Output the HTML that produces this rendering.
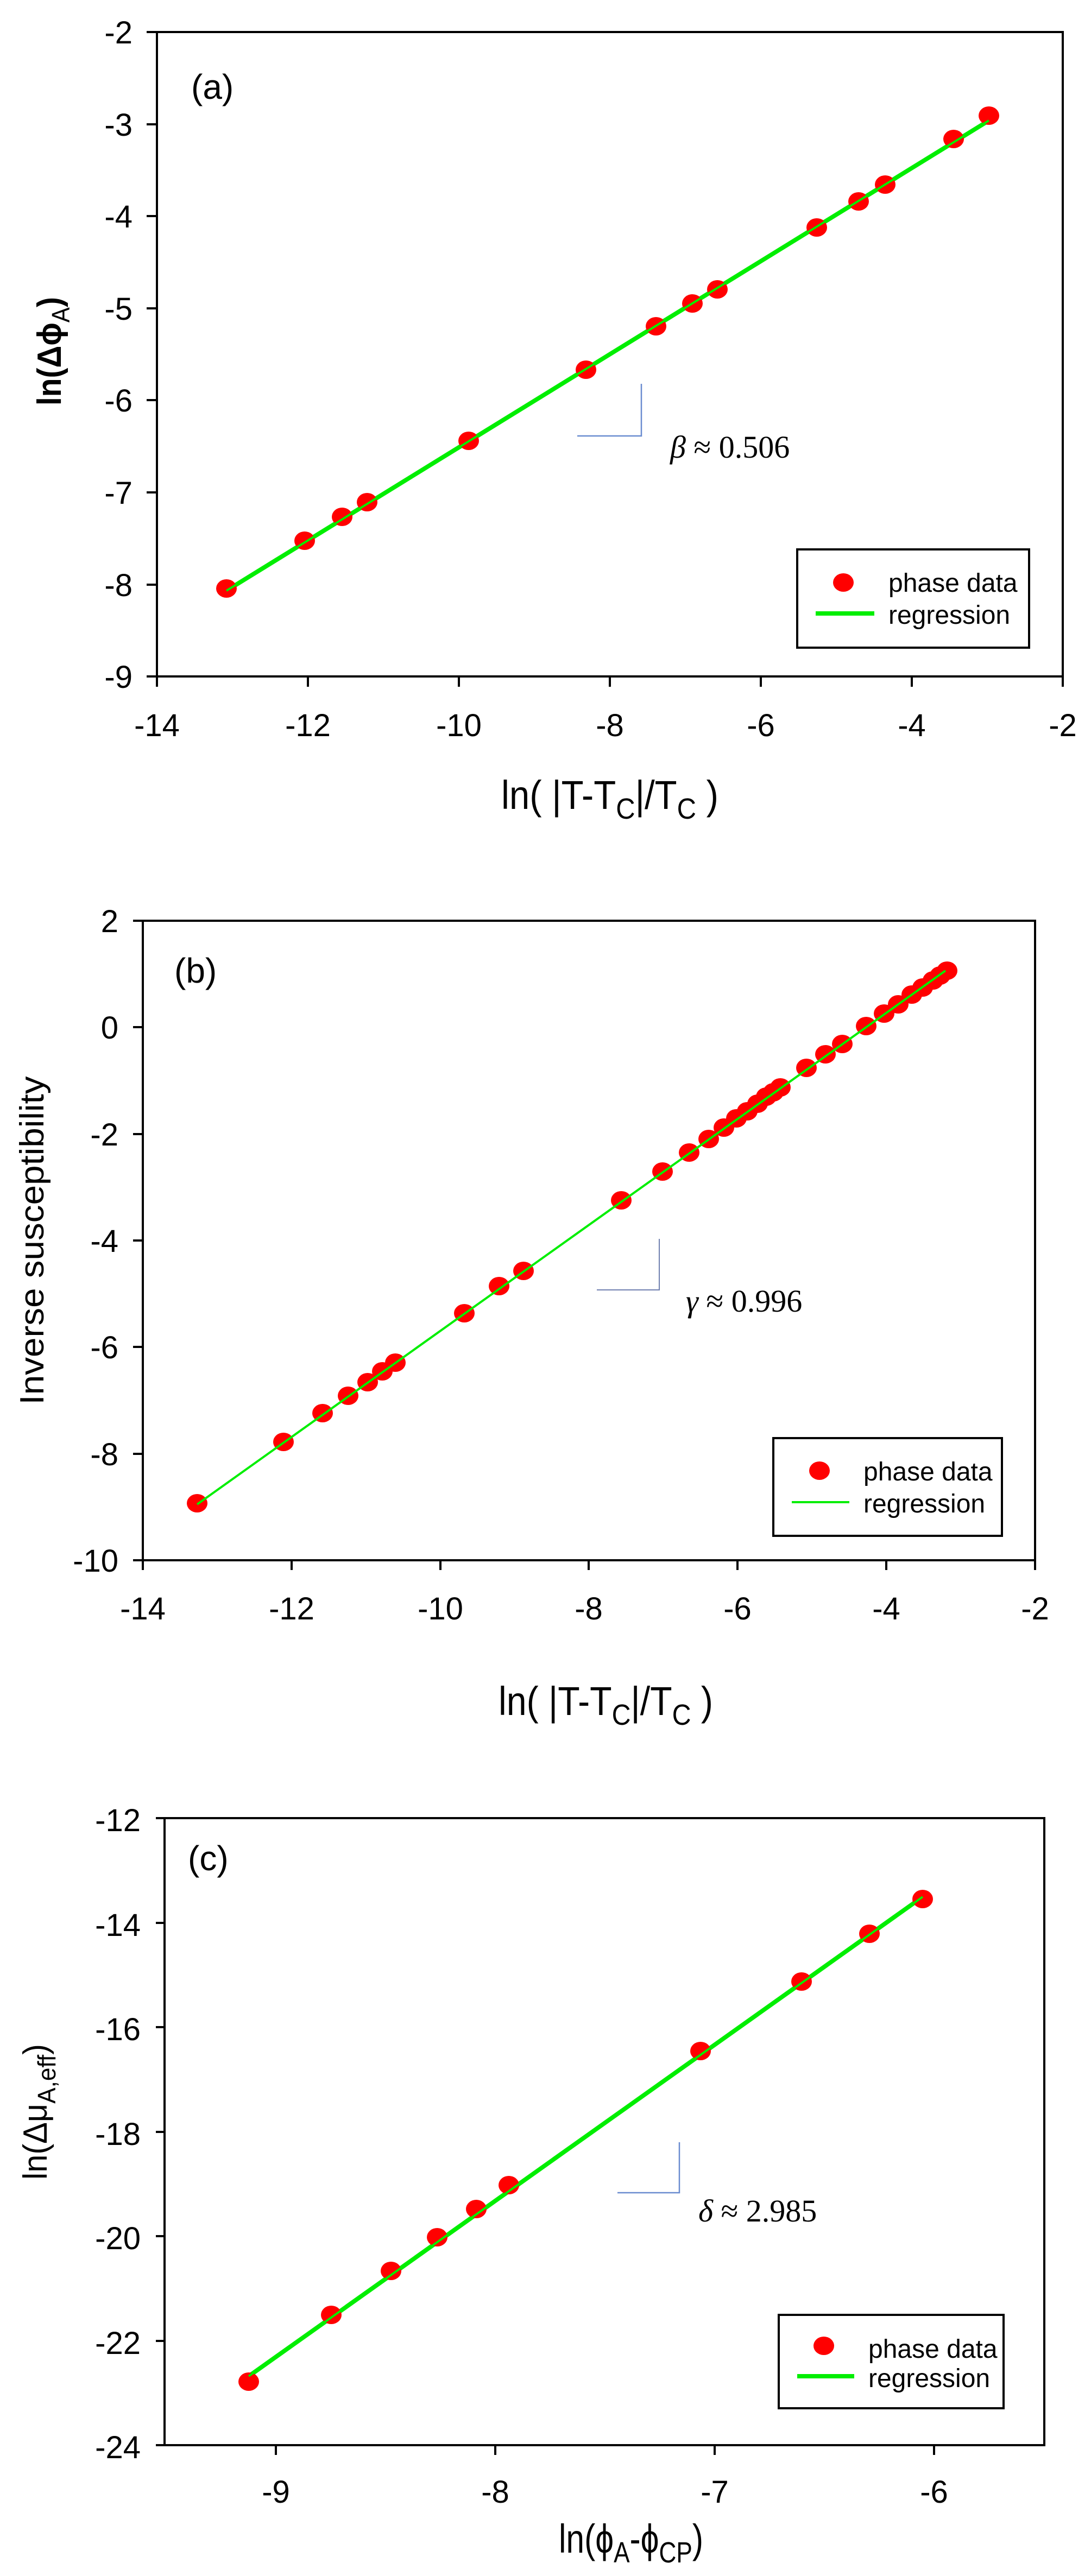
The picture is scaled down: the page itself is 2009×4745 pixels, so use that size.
<!DOCTYPE html>
<html><head><meta charset="utf-8"><style>
html,body{margin:0;padding:0;background:#fff;}
svg{display:block;}
text{font-family:"Liberation Sans",sans-serif;fill:#000;}
.t{font-size:58px;}
.s{font-family:"Liberation Serif",serif;font-size:58px;}
.lg{font-size:48px;}
</style></head><body>
<svg width="2009" height="4745" viewBox="0 0 2009 4745" xmlns="http://www.w3.org/2000/svg">
<!-- ===== Panel (a) ===== -->
<g>
<rect x="289" y="59" width="1668" height="1187" fill="none" stroke="#000" stroke-width="4"/>
<g stroke="#000" stroke-width="4">
<line x1="270" y1="59" x2="289" y2="59"/><line x1="270" y1="229" x2="289" y2="229"/><line x1="270" y1="398" x2="289" y2="398"/><line x1="270" y1="568" x2="289" y2="568"/><line x1="270" y1="737" x2="289" y2="737"/><line x1="270" y1="907" x2="289" y2="907"/><line x1="270" y1="1077" x2="289" y2="1077"/><line x1="270" y1="1246" x2="289" y2="1246"/>
<line x1="289" y1="1246" x2="289" y2="1265"/><line x1="567" y1="1246" x2="567" y2="1265"/><line x1="845" y1="1246" x2="845" y2="1265"/><line x1="1123" y1="1246" x2="1123" y2="1265"/><line x1="1401" y1="1246" x2="1401" y2="1265"/><line x1="1679" y1="1246" x2="1679" y2="1265"/><line x1="1957" y1="1246" x2="1957" y2="1265"/>
</g>
<g class="t" text-anchor="end">
<text x="244" y="80">-2</text><text x="244" y="250">-3</text><text x="244" y="419">-4</text><text x="244" y="589">-5</text><text x="244" y="758">-6</text><text x="244" y="928">-7</text><text x="244" y="1098">-8</text><text x="244" y="1267">-9</text>
</g>
<g class="t" text-anchor="middle">
<text x="289" y="1356">-14</text><text x="567" y="1356">-12</text><text x="845" y="1356">-10</text><text x="1123" y="1356">-8</text><text x="1401" y="1356">-6</text><text x="1679" y="1356">-4</text><text x="1957" y="1356">-2</text>
</g>
<text x="923" y="1490" style="font-size:74px" textLength="400" lengthAdjust="spacingAndGlyphs">ln( |T-T<tspan dy="18" style="font-size:54px">C</tspan><tspan dy="-18">|/T</tspan><tspan dy="18" style="font-size:54px">C</tspan><tspan dy="-18"> )</tspan></text>
<text transform="translate(112,647) rotate(-90)" text-anchor="middle" style="font-size:62px;font-weight:bold" textLength="200" lengthAdjust="spacingAndGlyphs">ln(Δϕ<tspan dy="16" style="font-size:46px;font-weight:normal">A</tspan><tspan dy="-16">)</tspan></text>
<text x="352" y="182" style="font-size:64px">(a)</text>
<line x1="417" y1="1088" x2="1821" y2="222" stroke="#00ee00" stroke-width="8"/>
<g fill="#ff0000">
<ellipse cx="417" cy="1084" rx="19" ry="17"/><ellipse cx="561" cy="996" rx="19" ry="17"/><ellipse cx="630" cy="952" rx="19" ry="17"/><ellipse cx="676" cy="925" rx="19" ry="17"/><ellipse cx="863" cy="812" rx="19" ry="17"/><ellipse cx="1079" cy="681" rx="19" ry="17"/><ellipse cx="1208" cy="601" rx="19" ry="17"/><ellipse cx="1275" cy="559" rx="19" ry="17"/><ellipse cx="1321" cy="533" rx="19" ry="17"/><ellipse cx="1504" cy="419" rx="19" ry="17"/><ellipse cx="1581" cy="371" rx="19" ry="17"/><ellipse cx="1630" cy="340" rx="19" ry="17"/><ellipse cx="1756" cy="256" rx="19" ry="17"/><ellipse cx="1821" cy="213" rx="19" ry="17"/>
</g>
<line x1="417" y1="1088" x2="1821" y2="222" stroke="#00ee00" stroke-width="4"/>
<polyline points="1063,803 1181,803 1181,707" fill="none" stroke="#6a8cd0" stroke-width="2.5"/>
<text class="s" x="1234" y="843"><tspan font-style="italic">β</tspan> ≈ 0.506</text>
<rect x="1468" y="1012" width="427" height="181" fill="#fff" stroke="#000" stroke-width="4"/>
<ellipse cx="1553" cy="1073" rx="19" ry="17" fill="#ff0000"/>
<line x1="1502" y1="1130" x2="1610" y2="1130" stroke="#00ee00" stroke-width="8"/>
<text class="lg" x="1636" y="1090">phase data</text>
<text class="lg" x="1636" y="1149">regression</text>
</g>

<!-- ===== Panel (b) ===== -->
<g>
<rect x="263" y="1696" width="1643" height="1178" fill="none" stroke="#000" stroke-width="4"/>
<g stroke="#000" stroke-width="4">
<line x1="245" y1="1696" x2="263" y2="1696"/><line x1="245" y1="1892" x2="263" y2="1892"/><line x1="245" y1="2089" x2="263" y2="2089"/><line x1="245" y1="2285" x2="263" y2="2285"/><line x1="245" y1="2481" x2="263" y2="2481"/><line x1="245" y1="2678" x2="263" y2="2678"/><line x1="245" y1="2874" x2="263" y2="2874"/>
<line x1="263" y1="2874" x2="263" y2="2892"/><line x1="537" y1="2874" x2="537" y2="2892"/><line x1="811" y1="2874" x2="811" y2="2892"/><line x1="1084" y1="2874" x2="1084" y2="2892"/><line x1="1358" y1="2874" x2="1358" y2="2892"/><line x1="1632" y1="2874" x2="1632" y2="2892"/><line x1="1906" y1="2874" x2="1906" y2="2892"/>
</g>
<g class="t" text-anchor="end">
<text x="218" y="1717">2</text><text x="218" y="1913">0</text><text x="218" y="2110">-2</text><text x="218" y="2306">-4</text><text x="218" y="2502">-6</text><text x="218" y="2699">-8</text><text x="218" y="2895">-10</text>
</g>
<g class="t" text-anchor="middle">
<text x="263" y="2983">-14</text><text x="537" y="2983">-12</text><text x="811" y="2983">-10</text><text x="1084" y="2983">-8</text><text x="1358" y="2983">-6</text><text x="1632" y="2983">-4</text><text x="1906" y="2983">-2</text>
</g>
<text x="918" y="3159" style="font-size:74px" textLength="395" lengthAdjust="spacingAndGlyphs">ln( |T-T<tspan dy="18" style="font-size:54px">C</tspan><tspan dy="-18">|/T</tspan><tspan dy="18" style="font-size:54px">C</tspan><tspan dy="-18"> )</tspan></text>
<text transform="translate(80,2285) rotate(-90)" text-anchor="middle" style="font-size:62px" textLength="605" lengthAdjust="spacingAndGlyphs">Inverse susceptibility</text>
<text x="321" y="1810" style="font-size:64px">(b)</text>
<g fill="#ff0000">
<ellipse cx="363" cy="2769" rx="19" ry="17"/><ellipse cx="522" cy="2656" rx="19" ry="17"/><ellipse cx="594" cy="2603" rx="19" ry="17"/><ellipse cx="641" cy="2571" rx="19" ry="17"/><ellipse cx="677" cy="2546" rx="19" ry="17"/><ellipse cx="704" cy="2526" rx="19" ry="17"/><ellipse cx="728" cy="2510" rx="19" ry="17"/><ellipse cx="855" cy="2419" rx="19" ry="17"/><ellipse cx="919" cy="2369" rx="19" ry="17"/><ellipse cx="964" cy="2341" rx="19" ry="17"/><ellipse cx="1144" cy="2211" rx="19" ry="17"/><ellipse cx="1220" cy="2158" rx="19" ry="17"/><ellipse cx="1269" cy="2123" rx="19" ry="17"/><ellipse cx="1305" cy="2098" rx="19" ry="17"/><ellipse cx="1333" cy="2077" rx="19" ry="17"/><ellipse cx="1356" cy="2060" rx="19" ry="17"/><ellipse cx="1376" cy="2047" rx="19" ry="17"/><ellipse cx="1395" cy="2033" rx="19" ry="17"/><ellipse cx="1411" cy="2020" rx="19" ry="17"/><ellipse cx="1424" cy="2012" rx="19" ry="17"/><ellipse cx="1437" cy="2003" rx="19" ry="17"/><ellipse cx="1485" cy="1967" rx="19" ry="17"/><ellipse cx="1520" cy="1942" rx="19" ry="17"/><ellipse cx="1551" cy="1923" rx="19" ry="17"/><ellipse cx="1595" cy="1890" rx="19" ry="17"/><ellipse cx="1628" cy="1867" rx="19" ry="17"/><ellipse cx="1654" cy="1850" rx="19" ry="17"/><ellipse cx="1679" cy="1832" rx="19" ry="17"/><ellipse cx="1699" cy="1819" rx="19" ry="17"/><ellipse cx="1718" cy="1806" rx="19" ry="17"/><ellipse cx="1731" cy="1797" rx="19" ry="17"/><ellipse cx="1744" cy="1788" rx="19" ry="17"/>
</g>
<line x1="1741" y1="1788" x2="363" y2="2771" stroke="#00ee00" stroke-width="4"/>
<polyline points="1099,2376 1214,2376 1214,2282" fill="none" stroke="#7080b0" stroke-width="2"/>
<text class="s" x="1263" y="2416"><tspan font-style="italic">γ</tspan> ≈ 0.996</text>
<rect x="1424" y="2649" width="421" height="180" fill="#fff" stroke="#000" stroke-width="4"/>
<ellipse cx="1509" cy="2709" rx="19" ry="17" fill="#ff0000"/>
<line x1="1458" y1="2767" x2="1564" y2="2767" stroke="#00ee00" stroke-width="4"/>
<text class="lg" x="1590" y="2727">phase data</text>
<text class="lg" x="1590" y="2786">regression</text>
</g>

<!-- ===== Panel (c) ===== -->
<g>
<rect x="303" y="3349" width="1620" height="1155" fill="none" stroke="#000" stroke-width="4"/>
<g stroke="#000" stroke-width="4">
<line x1="287" y1="3349" x2="303" y2="3349"/><line x1="287" y1="3542" x2="303" y2="3542"/><line x1="287" y1="3734" x2="303" y2="3734"/><line x1="287" y1="3927" x2="303" y2="3927"/><line x1="287" y1="4119" x2="303" y2="4119"/><line x1="287" y1="4312" x2="303" y2="4312"/><line x1="287" y1="4504" x2="303" y2="4504"/>
<line x1="508" y1="4504" x2="508" y2="4522"/><line x1="912" y1="4504" x2="912" y2="4522"/><line x1="1316" y1="4504" x2="1316" y2="4522"/><line x1="1720" y1="4504" x2="1720" y2="4522"/>
</g>
<g class="t" text-anchor="end">
<text x="259" y="3373">-12</text><text x="259" y="3566">-14</text><text x="259" y="3758">-16</text><text x="259" y="3951">-18</text><text x="259" y="4143">-20</text><text x="259" y="4336">-22</text><text x="259" y="4528">-24</text>
</g>
<g class="t" text-anchor="middle">
<text x="508" y="4610">-9</text><text x="912" y="4610">-8</text><text x="1316" y="4610">-7</text><text x="1720" y="4610">-6</text>
</g>
<text x="1029" y="4702" style="font-size:74px" textLength="266" lengthAdjust="spacingAndGlyphs">ln(ϕ<tspan dy="18" style="font-size:54px">A</tspan><tspan dy="-18">-ϕ</tspan><tspan dy="18" style="font-size:54px">CP</tspan><tspan dy="-18">)</tspan></text>
<text transform="translate(86,3890) rotate(-90)" text-anchor="middle" style="font-size:62px" textLength="250" lengthAdjust="spacingAndGlyphs">ln(Δμ<tspan dy="16" style="font-size:46px">A,eff</tspan><tspan dy="-16">)</tspan></text>
<text x="346" y="3445" style="font-size:64px">(c)</text>
<line x1="458" y1="4377" x2="1699" y2="3494" stroke="#00ee00" stroke-width="8"/>
<g fill="#ff0000">
<ellipse cx="458" cy="4387" rx="19" ry="17"/><ellipse cx="610" cy="4264" rx="19" ry="17"/><ellipse cx="720" cy="4183" rx="19" ry="17"/><ellipse cx="805" cy="4121" rx="19" ry="17"/><ellipse cx="877" cy="4069" rx="19" ry="17"/><ellipse cx="937" cy="4025" rx="19" ry="17"/><ellipse cx="1290" cy="3778" rx="19" ry="17"/><ellipse cx="1476" cy="3650" rx="19" ry="17"/><ellipse cx="1601" cy="3562" rx="19" ry="17"/><ellipse cx="1699" cy="3498" rx="19" ry="17"/>
</g>
<line x1="458" y1="4377" x2="1699" y2="3494" stroke="#00ee00" stroke-width="4"/>
<polyline points="1137,4039 1251,4039 1251,3946" fill="none" stroke="#6a8cd0" stroke-width="2.5"/>
<text class="s" x="1286" y="4092"><tspan font-style="italic">δ</tspan> ≈ 2.985</text>
<rect x="1434" y="4264" width="414" height="172" fill="#fff" stroke="#000" stroke-width="4"/>
<ellipse cx="1517" cy="4321" rx="19" ry="17" fill="#ff0000"/>
<line x1="1468" y1="4377" x2="1573" y2="4377" stroke="#00ee00" stroke-width="8"/>
<text class="lg" x="1599" y="4343">phase data</text>
<text class="lg" x="1599" y="4397">regression</text>
</g>
</svg>
</body></html>
